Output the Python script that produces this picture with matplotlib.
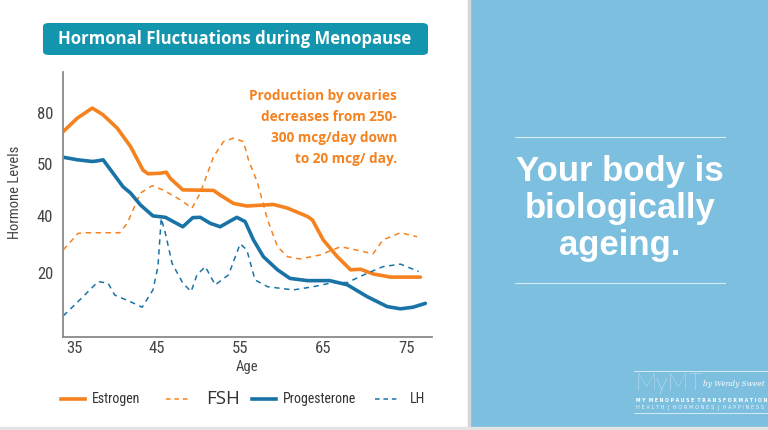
"""
Hormonal fluctuations during menopause - slide recreation
Left: line chart (estrogen, FSH, progesterone, LH vs age)
Right: blue panel with statement and logo
"""

import numpy as np
import matplotlib
matplotlib.use("Agg")
import matplotlib.pyplot as plt
from matplotlib.patches import FancyBboxPatch, Rectangle
from matplotlib.lines import Line2D

# ── DATA ──────────────────────────────────────────────────────────────────────
estrogen_age = [33.7, 35.4, 37.2, 38.5, 40.2, 41.8, 43.3, 43.9, 45.4, 46.1, 46.6,
                48.1, 51.8, 52.6, 54.2, 55.8, 59.0, 60.7, 63.1, 63.7, 65.0, 66.7,
                68.3, 69.5, 71.0, 73.1, 76.7]
estrogen = [69.0, 76.9, 82.8, 78.8, 71.0, 60.2, 48.8, 48.1, 48.2, 48.4, 47.2,
            45.0, 44.9, 44.0, 42.4, 41.9, 42.2, 41.5, 39.8, 38.6, 31.6, 25.7,
            21.1, 21.3, 19.7, 18.7, 18.7]

fsh_age = [33.7, 35.5, 36.6, 40.5, 41.4, 43.0, 44.4, 45.7, 47.8, 49.2, 50.2,
           51.8, 53.0, 54.2, 55.4, 56.0, 57.1, 58.3, 59.5, 60.7, 62.2, 64.6,
           67.1, 68.6, 71.0, 72.2, 74.3, 76.3]
fsh = [28.1, 33.9, 34.1, 34.1, 37.4, 44.4, 45.8, 45.0, 43.1, 41.5, 44.4,
       54.3, 63.1, 65.1, 63.1, 52.4, 46.3, 38.6, 29.2, 25.7, 24.9, 26.3,
       29.2, 28.3, 26.7, 31.6, 34.1, 32.7]

progesterone_age = [33.7, 35.4, 37.2, 37.9, 38.5, 39.7, 40.9, 41.8, 43.0, 44.5,
                    46.0, 48.1, 49.3, 50.2, 51.4, 52.6, 53.8, 54.6, 55.6, 56.6,
                    57.8, 59.5, 61.0, 63.1, 65.8, 67.9, 70.3, 72.7, 74.3, 75.8, 77.3]
progesterone = [53.9, 52.4, 51.4, 51.8, 52.4, 48.2, 45.6, 44.4, 42.1, 40.0,
                39.5, 36.2, 39.4, 39.5, 37.4, 36.2, 38.2, 39.5, 38.0, 31.6,
                25.7, 21.1, 18.3, 17.6, 17.6, 16.3, 12.6, 9.5, 8.8, 9.3, 10.5]

lh_age = [33.7, 35.7, 37.9, 39.1, 39.9, 41.8, 43.2, 44.5, 45.1, 45.5, 46.0,
          46.8, 48.1, 49.1, 49.8, 50.8, 52.0, 53.6, 55.0, 55.8, 56.8, 58.3,
          61.4, 63.8, 66.2, 67.9, 70.3, 72.2, 74.3, 76.5]
lh = [6.6, 11.6, 17.3, 16.8, 13.1, 11.0, 9.3, 14.7, 22.2, 39.2, 33.9,
      23.4, 16.8, 14.2, 19.4, 22.2, 16.3, 19.4, 30.2, 28.1, 17.8, 15.7,
      14.7, 15.7, 17.0, 17.0, 19.9, 22.2, 23.1, 20.5]

x_ticks = [35, 45, 55, 65, 75]
y_ticks = [20, 40, 50, 80]

# the printed y axis is not evenly spaced: level -> visual height
LEVELS  = [0, 20, 40, 50, 80, 110]
HEIGHTS = [0, 64, 121, 173, 224, 275]

ORANGE = "#f5821f"
BLUE   = "#1a73a6"
PANEL  = "#7cbfdf"
TEAL   = "#1396ad"
GREY   = "#444444"

NARROW = ["Liberation Sans Narrow", "Roboto Condensed", "DejaVu Sans"]
NARROW_KW = dict(family=NARROW, stretch="condensed")


def fwd(v):
    return np.interp(v, LEVELS, HEIGHTS)


def inv(h):
    return np.interp(h, HEIGHTS, LEVELS)


# ── FIGURE ────────────────────────────────────────────────────────────────────
fig = plt.figure(figsize=(7.68, 4.30), dpi=100)
fig.patch.set_facecolor("white")

W, H = 768, 430
fig.add_artist(Rectangle((471 / W, 3.5 / H), (W - 471) / W, 1 - 3.5 / H,
                         transform=fig.transFigure, color=PANEL, zorder=0))
fig.add_artist(Rectangle((467.5 / W, 3.5 / H), 2.5 / W, 1 - 3.5 / H,
                         transform=fig.transFigure, color="#d6d6d6", zorder=0))
fig.add_artist(Rectangle((0, 0), 1, 3.5 / H,
                         transform=fig.transFigure, color="#e3e3e3", zorder=0))

# title box
fig.add_artist(FancyBboxPatch((43 / W, (H - 55) / H), 385 / W, 32 / H,
                              boxstyle="round,pad=0,rounding_size=0.008",
                              transform=fig.transFigure, facecolor=TEAL,
                              edgecolor="none", zorder=1))
fig.text(235 / W, (H - 39) / H, "Hormonal Fluctuations during Menopause",
         ha="center", va="center", color="white", fontsize=12.1,
         fontweight="bold", family=["Open Sans", "DejaVu Sans"])

# ── CHART ─────────────────────────────────────────────────────────────────────
ax = fig.add_axes([63 / W, (H - 337) / H, (432 - 63) / W, (337 - 72) / H])
ax.set_yscale("function", functions=(fwd, inv))

ax.plot(estrogen_age, estrogen, color=ORANGE, lw=2.6, solid_joinstyle="round",
        solid_capstyle="round")
ax.plot(fsh_age, fsh, color=ORANGE, lw=1.1, ls=(0, (3.5, 3)))
ax.plot(progesterone_age, progesterone, color=BLUE, lw=2.6,
        solid_joinstyle="round", solid_capstyle="round")
ax.plot(lh_age, lh, color=BLUE, lw=1.1, ls=(0, (3.5, 3)))

ax.set_xlim(33.67, 78.1)
ax.set_ylim(0, 104)
ax.set_xticks(x_ticks)
ax.set_yticks(y_ticks)
ax.yaxis.set_minor_locator(matplotlib.ticker.NullLocator())
ax.tick_params(length=0, labelsize=12, colors=GREY)
ax.tick_params(axis="x", pad=3)
ax.tick_params(axis="y", pad=7)
for lab in ax.get_xticklabels() + ax.get_yticklabels():
    lab.set_family(NARROW)
    lab.set_stretch("condensed")
for side in ["top", "right"]:
    ax.spines[side].set_visible(False)
for side in ["left", "bottom"]:
    ax.spines[side].set_color("#8a8a8a")
    ax.spines[side].set_linewidth(1.3)
ax.set_facecolor("none")

ax.set_xlabel("Age", fontsize=10.5, color=GREY, labelpad=3, **NARROW_KW)
ax.set_ylabel("Hormone Levels", fontsize=10.5, color=GREY, **NARROW_KW)
ax.yaxis.set_label_coords(-0.112, (337 - 192) / (337 - 72))

note = "Production by ovaries\ndecreases from 250-\n300 mcg/day down\nto 20 mcg/ day."
ax.text(0.905, 0.935, note, transform=ax.transAxes, ha="right", va="top",
        color=ORANGE, fontsize=9.8, fontweight="bold", linespacing=1.62,
        family=["Open Sans", "DejaVu Sans"])

# ── LEGEND ────────────────────────────────────────────────────────────────────
ly = (H - 399) / H
legend_items = [
    (61, 92, ORANGE, 2.6, "-", "Estrogen", 10, NARROW),
    (166, 206, ORANGE, 1.1, (0, (3, 2.5)), "FSH", 13.5, ["Open Sans", "DejaVu Sans"]),
    (252, 283, BLUE, 2.6, "-", "Progesterone", 10, NARROW),
    (375, 410, BLUE, 1.1, (0, (3, 2.5)), "LH", 10, NARROW),
]
for x0, xt, col, lw, ls, lab, fs, fam in legend_items:
    fig.add_artist(Line2D([x0 / W, (x0 + 24) / W], [ly, ly], color=col, lw=lw,
                          ls=ls, transform=fig.transFigure))
    stretch = "normal" if lab == "FSH" else "condensed"
    fig.text(xt / W, ly, lab, ha="left", va="center", fontsize=fs,
             color="#333333", family=fam, stretch=stretch)

# ── RIGHT PANEL ───────────────────────────────────────────────────────────────
for yy in [137, 283]:
    fig.add_artist(Line2D([515 / W, 725 / W], [(H - yy) / H] * 2, color="white",
                          lw=0.8, alpha=0.7, transform=fig.transFigure))
for i, line in enumerate(["Your body is", "biologically", "ageing."]):
    fig.text(620 / W, (H - 172 - 36.5 * i) / H, line, ha="center", va="center",
             color="white", fontsize=25, fontweight="bold",
             family=["Liberation Sans", "DejaVu Sans"])

# logo
for yy in [371, 413]:
    fig.add_artist(Line2D([634 / W, 1.0], [(H - yy) / H] * 2, color="white",
                          lw=0.6, alpha=0.8, transform=fig.transFigure))
fig.text(635 / W, (H - 384) / H, "MyMT", ha="left", va="center", color="white",
         fontsize=17, fontweight="light", family=["Lato", "DejaVu Sans"])
fig.text(703 / W, (H - 384) / H, "by Wendy Sweet", ha="left", va="center",
         color="white", fontsize=5.3, style="italic",
         family=["DejaVu Serif"])
fig.text(636 / W, (H - 400) / H, "M Y  M E N O P A U S E  T R A N S F O R M A T I O N",
         ha="left", va="center", color="white", fontsize=3.3, fontweight="bold")
fig.text(636 / W, (H - 407) / H, "H E A L T H  |  H O R M O N E S  |  H A P P I N E S S",
         ha="left", va="center", color="white", fontsize=3.7, alpha=0.85)

plt.savefig("out.png", dpi=100)
plt.close()
